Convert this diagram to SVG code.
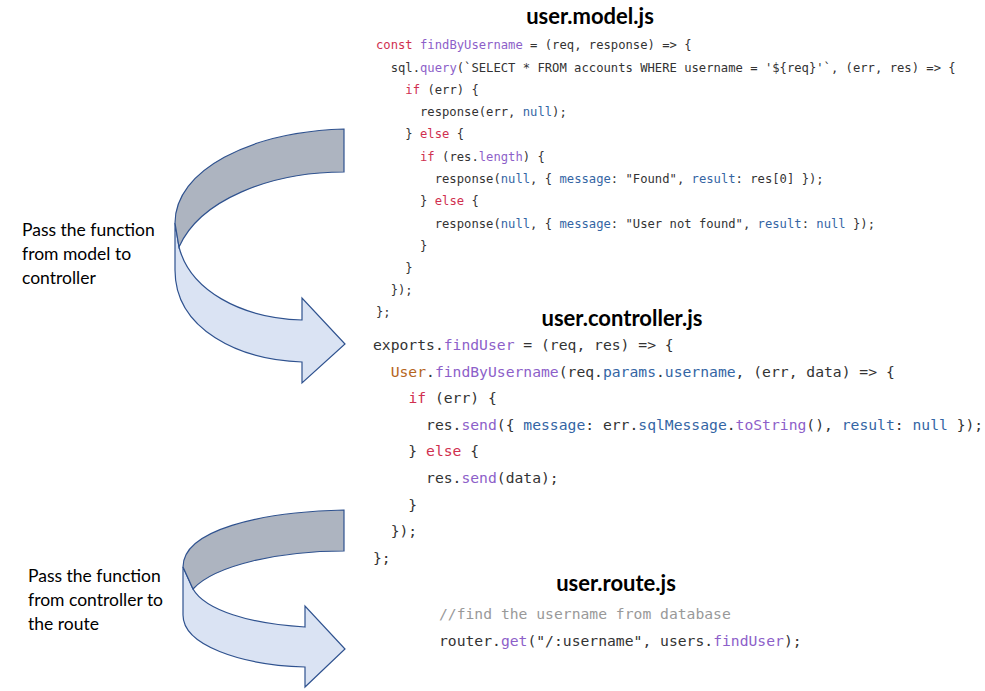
<svg xmlns="http://www.w3.org/2000/svg" width="985" height="691" viewBox="0 0 985 691">
<style>
.t{font-family:Lato,"Liberation Sans",sans-serif;font-weight:bold;font-size:22px;fill:#000;text-anchor:middle}
.l{font-family:Lato,"Liberation Sans",sans-serif;font-size:17.5px;fill:#000}
.c{font-family:"DejaVu Sans Mono","Liberation Mono",monospace;fill:#333;white-space:pre}
.m{font-size:12.2px}.k{font-size:14.7px}
.r{fill:#d0304f}.f{fill:#8d5fc9}.b{fill:#3465a4}.o{fill:#b5651d}.g{fill:#999}
.dark{fill:#adb4c0;stroke:#2f528f;stroke-width:1.2}
.light{fill:#dae3f3;stroke:#2f528f;stroke-width:1.2}
</style>
<rect width="985" height="691" fill="#fff"/>
<g id="connectors">
<g id="arrow1">
<path class="light" d="M175,223 L175,270 C175,330 240,360 302,362 L302,383 L345,344 L302,298 L302,320 C240,318 190,290 179,247 Z"/>
<path class="dark" d="M344,129 C250,132 175,170 175,223 L179,247 C200,200 270,172 344,172 Z"/>
</g>
<g id="arrow2">
<path class="light" d="M183,567 L183,615 C183,645 240,665 305,667 L305,687 L345,649 L305,606 L305,627 C250,624 205,610 193,589 Z"/>
<path class="dark" d="M344,510 C260,512 183,530 183,567 L193,589 C215,565 280,551 344,551 Z"/>
</g>
</g>
<g id="label1"><text class="l" x="22" y="236">Pass the function</text><text class="l" x="22" y="260">from model to</text><text class="l" x="22" y="284">controller</text></g>
<g id="label2"><text class="l" x="28" y="582">Pass the function</text><text class="l" x="28" y="606">from controller to</text><text class="l" x="28" y="630">the route</text></g>
<g id="model">
<text class="t" x="590" y="24">user.model.js</text>
<text class="c m" xml:space="preserve"><tspan x="376" y="49"><tspan class="r">const</tspan> <tspan class="f">findByUsername</tspan> = (req, response) =&gt; {</tspan><tspan x="376" y="72">  sql.<tspan class="f">query</tspan>(`SELECT * FROM accounts WHERE username = '${req}'`, (err, res) =&gt; {</tspan><tspan x="376" y="94">    <tspan class="r">if</tspan> (err) {</tspan><tspan x="376" y="116">      response(err, <tspan class="b">null</tspan>);</tspan><tspan x="376" y="138">    } <tspan class="r">else</tspan> {</tspan><tspan x="376" y="161">      <tspan class="r">if</tspan> (res.<tspan class="f">length</tspan>) {</tspan><tspan x="376" y="183">        response(<tspan class="b">null</tspan>, { <tspan class="b">message</tspan>: "Found", <tspan class="b">result</tspan>: res[0] });</tspan><tspan x="376" y="205">      } <tspan class="r">else</tspan> {</tspan><tspan x="376" y="228">        response(<tspan class="b">null</tspan>, { <tspan class="b">message</tspan>: "User not found", <tspan class="b">result</tspan>: <tspan class="b">null</tspan> });</tspan><tspan x="376" y="250">      }</tspan><tspan x="376" y="272">    }</tspan><tspan x="376" y="294">  });</tspan><tspan x="376" y="316">};</tspan></text>
</g>
<g id="controller">
<text class="t" x="622" y="326">user.controller.js</text>
<text class="c k" xml:space="preserve"><tspan x="373" y="350">exports.<tspan class="f">findUser</tspan> = (req, res) =&gt; {</tspan><tspan x="373" y="377">  <tspan class="o">User</tspan>.<tspan class="f">findByUsername</tspan>(req.<tspan class="b">params</tspan>.<tspan class="b">username</tspan>, (err, data) =&gt; {</tspan><tspan x="373" y="403">    <tspan class="r">if</tspan> (err) {</tspan><tspan x="373" y="430">      res.<tspan class="f">send</tspan>({ <tspan class="b">message</tspan>: err.<tspan class="b">sqlMessage</tspan>.<tspan class="f">toString</tspan>(), <tspan class="b">result</tspan>: <tspan class="b">null</tspan> });</tspan><tspan x="373" y="456">    } <tspan class="r">else</tspan> {</tspan><tspan x="373" y="483">      res.<tspan class="f">send</tspan>(data);</tspan><tspan x="373" y="510">    }</tspan><tspan x="373" y="536">  });</tspan><tspan x="373" y="563">};</tspan></text>
</g>
<g id="route">
<text class="t" x="616" y="591">user.route.js</text>
<text class="c k" xml:space="preserve"><tspan x="439" y="619" class="g">//find the username from database</tspan><tspan x="439" y="646">router.<tspan class="f">get</tspan>("/:username", users.<tspan class="f">findUser</tspan>);</tspan></text>
</g>
</svg>
